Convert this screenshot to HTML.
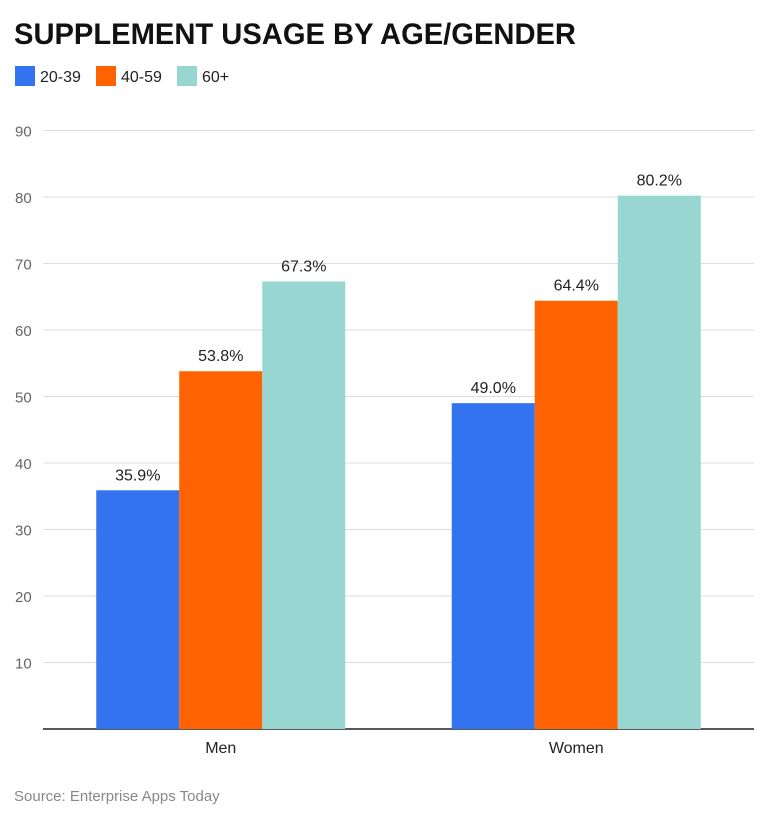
<!DOCTYPE html>
<html><head><meta charset="utf-8"><style>
body{margin:0;background:#fff;width:768px;height:819px;overflow:hidden;font-family:"Liberation Sans",sans-serif}
</style></head><body>
<svg width="768" height="819">
<text x="14" y="44" font-family="Liberation Sans" font-weight="bold" font-size="30" fill="#111" textLength="562" lengthAdjust="spacingAndGlyphs">SUPPLEMENT USAGE BY AGE/GENDER</text>
<g id="legend"></g>
<g id="grid"></g>
<g id="bars"></g>
<text x="14" y="801" font-size="15" fill="#888">Source: Enterprise Apps Today</text>
</svg>
<script>
const categories=["Men","Women"];
const seriesNames=["20-39","40-59","60+"];
const seriesColors=["#3373ef","#ff6200","#98d6d2"];
const values20=[35.9,49.0];
const values40=[53.8,64.4];
const values60=[67.3,80.2];
const yTicks=[10,20,30,40,50,60,70,80,90];
const ns="http://www.w3.org/2000/svg";
const x0=43,x1=754,yBase=729,pxPer=6.65,barW=83;
const y=v=>yBase-v*pxPer;
const catW=(x1-x0)/categories.length;
function mk(t,a,p){const e=document.createElementNS(ns,t);for(const k in a)e.setAttribute(k,a[k]);p.appendChild(e);return e;}
const lg=document.getElementById('legend');
const lx=[15,96,177];
seriesNames.forEach((n,i)=>{
 const r=mk('rect',{x:lx[i],y:66,width:20,height:20,fill:seriesColors[i]},lg);
 
 
 const t=mk('text',{x:lx[i]+25,y:82,'font-size':16,fill:'#222'},lg);t.textContent=n;
 
 
});
const g=document.getElementById('grid');
yTicks.forEach(v=>{
 const l=mk('line',{x1:x0,x2:x1,y1:y(v),y2:y(v),stroke:'#ddd','stroke-width':1},g);
 
 
 const t=mk('text',{x:15,y:y(v)+6,'font-size':15,fill:'#666'},g);t.textContent=v;
 
 
});
const ax=mk('line',{x1:x0,x2:x1,y1:yBase,y2:yBase,stroke:'#222','stroke-width':1.5},g);


const b=document.getElementById('bars');
const all=[values20,values40,values60];
categories.forEach((c,ci)=>{
 const cx=x0+catW*(ci+0.5);
 all.forEach((s,si)=>{
  const bx=cx-1.5*barW+si*barW;
  const r=mk('rect',{x:bx,y:y(s[ci]),width:barW,height:yBase-y(s[ci]),fill:seriesColors[si]},b);
  
  
  const t=mk('text',{x:bx+barW/2,y:y(s[ci])-10,'font-size':16,fill:'#222','text-anchor':'middle'},b);
  t.textContent=s[ci].toFixed(1)+'%';
  
  
 });
 const t=mk('text',{x:cx,y:753,'font-size':16,fill:'#222','text-anchor':'middle'},b);t.textContent=c;
 
 
});
</script>
</body></html>
